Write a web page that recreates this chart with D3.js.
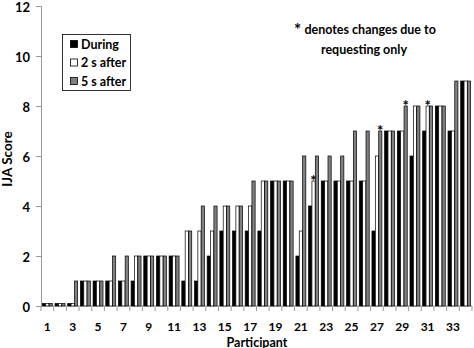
<!DOCTYPE html>
<html><head><meta charset="utf-8">
<script src="https://cdn.jsdelivr.net/npm/d3@7"></script>
<style>body{margin:0;background:#fff}svg{display:block}text{font-family:Lato,"Open Sans",sans-serif;font-weight:bold}</style>
</head><body><div id="c"></div>
<script>
const participants = d3.range(1, 35);
const seriesNames = ["During", "2 s after", "5 s after"];
const during = [0.1,0.1,0.1,1,1,1,1,1,2,2,2,1,1,2,3,3,3,3,5,5,2,4,5,5,5,5,3,7,7,6,7,8,7,9];
const after2 = [0.1,0.1,0.1,1,1,1,1,2,2,2,2,3,3,3,4,4,4,5,5,5,3,5,5,5,5,5,6,7,7,8,8,8,7,9];
const after5 = [0.1,0.1,1,1,1,2,2,2,2,2,2,3,4,4,4,4,5,5,5,5,6,6,6,6,7,7,7,7,8,8,8,8,9,9];
const yTicks = [0,2,4,6,8,10,12];
const xLabels = d3.range(1, 35, 2);
const starParticipants = [22,27,29,31];
const starSeries = [1,2,2,1];
const colors = ["#000000","#ffffff","#808080"];

const W=474,H=348;
const svg=d3.select("#c").append("svg").attr("width",W).attr("height",H);
const y=d3.scaleLinear().domain([0,12]).range([306,6]);
const x=d3.scaleBand().domain(participants).range([41,472]).padding(0);
const xs=d3.scaleBand().domain([0,1,2]).range([1.2,x.bandwidth()-1.2]).padding(0.05);
const series=[during,after2,after5];

// y axis
const ya=svg.append("g").attr("transform","translate(41,0)")
  .call(d3.axisLeft(y).tickValues(yTicks).tickSize(5).tickPadding(6));
ya.select(".domain").attr("stroke","#999");
ya.selectAll(".tick line").attr("stroke","#999");
ya.selectAll("text").attr("font-size",13).attr("fill","#000").attr("font-family","Lato").attr("dy","0.4em");

// x axis
const xa=svg.append("g").attr("transform","translate(0,306)");
xa.append("line").attr("x1",41).attr("x2",472).attr("stroke","#999");
xa.selectAll("line.t").data(participants.concat([35])).join("line")
  .attr("x1",(d,i)=>41+i*x.step()).attr("x2",(d,i)=>41+i*x.step()).attr("y1",0).attr("y2",5).attr("stroke","#999");
xa.selectAll("text").data(xLabels).join("text")
  .attr("x",d=>x(d)+x.bandwidth()/2).attr("y",25).attr("text-anchor","middle").attr("font-size",12).text(d=>d);

// bars
series.forEach((vals,s)=>{
  svg.append("g").selectAll("rect").data(participants).join("rect")
    .attr("x",(p,i)=>x(p)+xs(s)).attr("width",xs.bandwidth())
    .attr("y",(p,i)=>y(vals[i])).attr("height",(p,i)=>y(0)-y(vals[i]))
    .attr("fill",colors[s]).attr("stroke","#000").attr("stroke-width",0.7);
});

// asterisks
svg.append("g").selectAll("text").data(starParticipants).join("text")
  .attr("x",(p,i)=>x(p)+xs(starSeries[i])+xs.bandwidth()/2)
  .attr("y",(p,i)=>y(series[starSeries[i]][p-1])+5)
  .attr("text-anchor","middle").attr("font-size",15).text("*");

// titles
svg.append("text").attr("x",257).attr("y",346.5).attr("text-anchor","middle").attr("font-size",12.5).text("Participant");
svg.append("text").attr("transform","translate(12,159) rotate(-90)").attr("text-anchor","middle").attr("font-size",13.5).text("IJA Score");

// legend
const lg=svg.append("g");
lg.append("rect").attr("x",62.5).attr("y",34.5).attr("width",68).attr("height",56).attr("fill","#fff").attr("stroke","#000").attr("stroke-width",0.8);
seriesNames.forEach((n,i)=>{
  const cy=44+i*18.5;
  lg.append("rect").attr("x",70.5).attr("y",cy-3.5).attr("width",7).attr("height",7).attr("fill",colors[i]).attr("stroke","#000").attr("stroke-width",0.8);
  lg.append("text").attr("x",81).attr("y",cy+4.5).attr("font-size",12.5).text(n);
});

// annotation
const an=svg.append("text").attr("x",365).attr("y",34).attr("text-anchor","middle").attr("font-size",12.5);
an.append("tspan").attr("font-size",17).attr("dy",2).text("*");
an.append("tspan").attr("dy",-2).text(" denotes changes due to");
svg.append("text").attr("x",364).attr("y",54).attr("text-anchor","middle").attr("font-size",12.5).text("requesting only");
</script></body></html>
